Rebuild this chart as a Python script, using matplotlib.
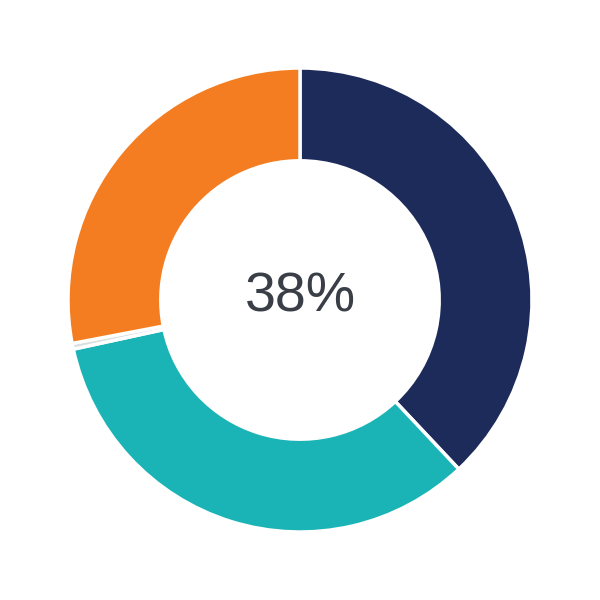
import matplotlib
matplotlib.use("Agg")
import matplotlib.pyplot as plt

labels = ["A", "B", "C", "D"]
values = [38, 33.6, 0.4, 28]
colors = ["#1d2b5b", "#1bb4b6", "#d8dde0", "#f37d20"]
center_text = "38%"

fig = plt.figure(figsize=(6, 6), dpi=100)
ax = fig.add_axes([0, 0, 1, 1])
ax.pie(values, colors=colors, startangle=90, counterclock=False, radius=1,
       wedgeprops=dict(width=0.4, edgecolor="white", linewidth=2.5))
lim = 300 / 232
ax.set_xlim(-lim, lim)
ax.set_ylim(-lim, lim)
ax.set_aspect("equal")
ax.axis("off")
ax.text(0, 0.01, center_text, ha="center", va="center", fontsize=40,
        family="Liberation Sans", color="#3a3f47")
fig.savefig("out.png", dpi=100)
